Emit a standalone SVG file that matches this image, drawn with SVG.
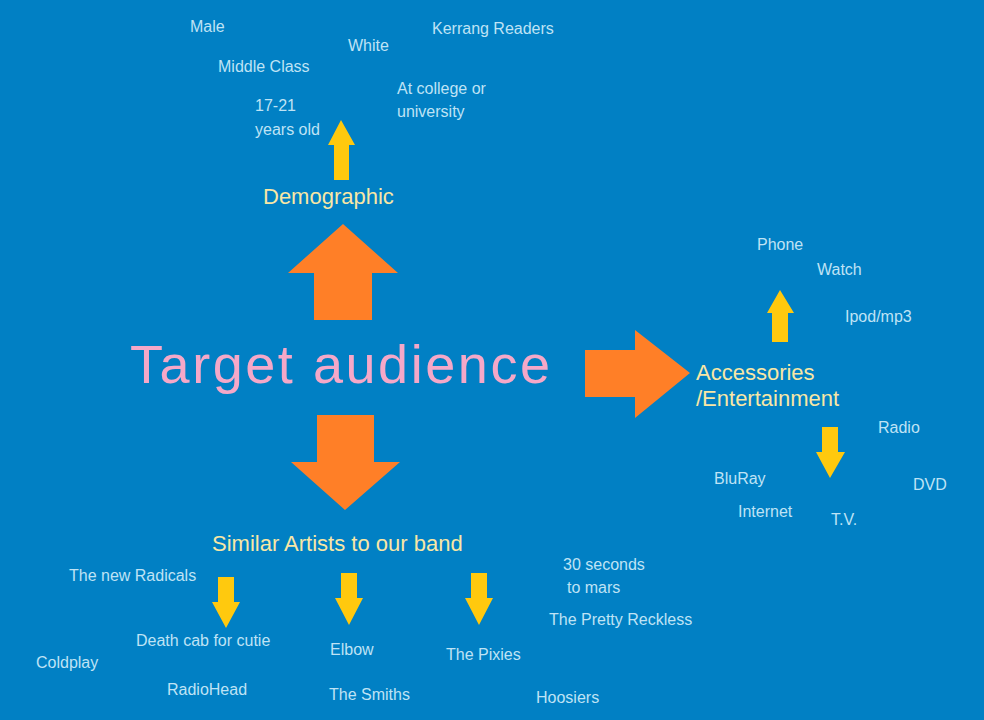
<svg xmlns="http://www.w3.org/2000/svg" width="984" height="720" viewBox="0 0 984 720">
<style>
.s{font-family:"Liberation Sans",Arial,sans-serif;font-size:16px;fill:#BFE3F5}
.h{font-family:"Liberation Sans",Arial,sans-serif;font-size:22px;fill:#F8E7A6}
.big{fill:#FF7F27}
.y{fill:#FFC90E}
</style>
<rect width="984" height="720" fill="#0180C4"/>
<g id="title"><text x="130" y="383" font-family="Liberation Sans,Arial,sans-serif" font-size="54" fill="#F5A8C8" textLength="420">Target audience</text></g>
<g id="connectors">
<polygon class="big" points="314,320 314,273 288,273 343,224 398,273 372,273 372,320"/>
<polygon class="big" points="585,350 635,350 635,330 690,373 635,418 635,397 585,397"/>
<polygon class="big" points="317,415 374,415 374,462 400,462 345,510 291,462 317,462"/>
<polygon class="y" points="334,180 334,145 328,145 341,120 355,145 349,145 349,180"/>
<polygon class="y" points="772,342 772,313 767,313 780,290 794,313 788,313 788,342"/>
<polygon class="y" points="822,427 838,427 838,452 845,452 830,478 816,452 822,452"/>
<polygon class="y" points="218,577 234,577 234,602 240,602 226,628 212,602 218,602"/>
<polygon class="y" points="341,573 357,573 357,598 363,598 349,625 335,598 341,598"/>
<polygon class="y" points="471,573 487,573 487,598 493,598 479,625 465,598 471,598"/>
</g>
<g id="demographic">
<text class="h" x="263" y="204">Demographic</text>
<text class="s" x="190" y="32">Male</text>
<text class="s" x="348" y="51">White</text>
<text class="s" x="432" y="34">Kerrang Readers</text>
<text class="s" x="218" y="72">Middle Class</text>
<text class="s" x="255" y="111">17-21</text>
<text class="s" x="255" y="135">years old</text>
<text class="s" x="397" y="94">At college or</text>
<text class="s" x="397" y="117">university</text>
</g>
<g id="accessories">
<text class="h" x="696" y="380">Accessories</text>
<text class="h" x="696" y="406"> /Entertainment</text>
<text class="s" x="757" y="250">Phone</text>
<text class="s" x="817" y="275">Watch</text>
<text class="s" x="845" y="322">Ipod/mp3</text>
<text class="s" x="878" y="433">Radio</text>
<text class="s" x="714" y="484">BluRay</text>
<text class="s" x="913" y="490">DVD</text>
<text class="s" x="738" y="517">Internet</text>
<text class="s" x="831" y="525">T.V.</text>
</g>
<g id="artists">
<text class="h" x="212" y="551">Similar Artists to our band</text>
<text class="s" x="69" y="581">The new Radicals</text>
<text class="s" x="136" y="646">Death cab for cutie</text>
<text class="s" x="36" y="668">Coldplay</text>
<text class="s" x="167" y="695">RadioHead</text>
<text class="s" x="330" y="655">Elbow</text>
<text class="s" x="329" y="700">The Smiths</text>
<text class="s" x="446" y="660">The Pixies</text>
<text class="s" x="563" y="570">30 seconds</text>
<text class="s" x="567" y="593">to mars</text>
<text class="s" x="549" y="625">The Pretty Reckless</text>
<text class="s" x="536" y="703">Hoosiers</text>
</g>
</svg>
